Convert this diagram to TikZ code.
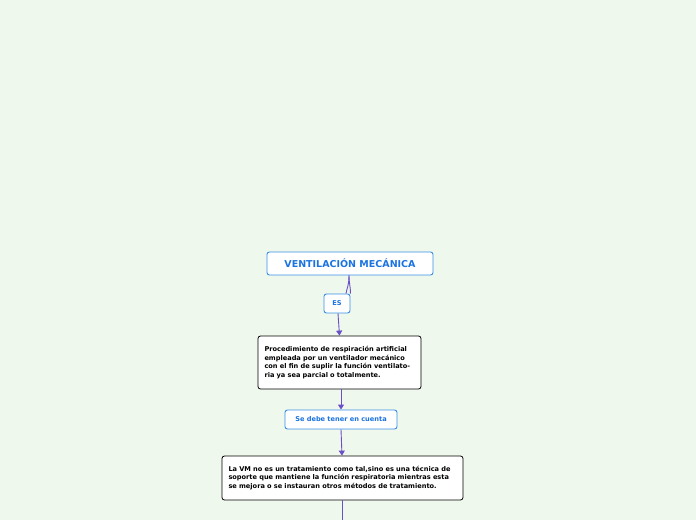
\documentclass[tikz,border=0pt]{standalone}
\usepackage{fontspec}
\setmainfont{DejaVu Sans}
\usetikzlibrary{arrows.meta}
\definecolor{bg}{HTML}{EEF8EC}
\definecolor{bl}{HTML}{1A73E0}
\definecolor{blb}{HTML}{3A8EE6}
\definecolor{pu}{HTML}{6A4FC8}
\tikzset{
 bluebox/.style={draw=blb,line width=0.9pt,rounded corners=2.5pt,fill=white,text=bl,font=\bfseries,inner sep=0pt},
 blackbox/.style={draw=black,line width=0.8pt,rounded corners=2.5pt,fill=white,font=\fontsize{6.6}{8.4}\selectfont\bfseries,align=left,inner sep=0pt},
 conn/.style={draw=pu,line width=0.9pt},
 arr/.style={conn,-{Triangle[width=6pt,length=5pt]}}
}
\begin{document}
\begin{tikzpicture}[x=1pt,y=-1pt]
\fill[bg] (0,0) rectangle (696,520);
\useasboundingbox (0,0) rectangle (696,520);
\node[bluebox,minimum width=166pt,minimum height=23pt,font=\fontsize{9.5}{11}\selectfont\bfseries] (t) at (350,263.5) {VENTILACIÓN MECÁNICA};
\node[bluebox,minimum width=26pt,minimum height=19pt,font=\fontsize{6.6}{8}\selectfont\bfseries] (es) at (337,303.5) {ES};
\node[blackbox,minimum width=163pt,minimum height=53pt,text width=150pt] (p) at (339.5,362.5) {Procedimiento de respiración artificial empleada por un ventilador mecánico con el fin de suplir la función ventilatoria ya sea parcial o totalmente.};
\node[bluebox,minimum width=112pt,minimum height=19pt,font=\fontsize{6.6}{8}\selectfont\bfseries] (s) at (341,419.5) {Se debe tener en cuenta};
\node[blackbox,minimum width=241pt,minimum height=44pt,text width=228pt] (l) at (342.5,478) {La VM no es un tratamiento como tal,sino es una técnica de soporte que mantiene la función respiratoria mientras esta se mejora o se instauran otros métodos de tratamiento.};
\coordinate (e) at (342,520);
\draw[conn] (t.south) ++(-1,0) .. controls +(0,8) and +(0,-8) .. (es.north east) ++(-4,0);
\draw[conn] ([xshift=-1pt]t.south) .. controls +(0,10) and +(1,-6) .. ([xshift=9pt]es.north);
\draw[arr] ([xshift=1pt]es.south) -- (p.north);
\draw[arr] ([xshift=1.5pt]p.south) -- (s.north);
\draw[arr] (s.south) -- ([xshift=-0.5pt]l.north);
\draw[conn] ([xshift=-0.5pt]l.south) -- (e);
\end{tikzpicture}
\end{document}
